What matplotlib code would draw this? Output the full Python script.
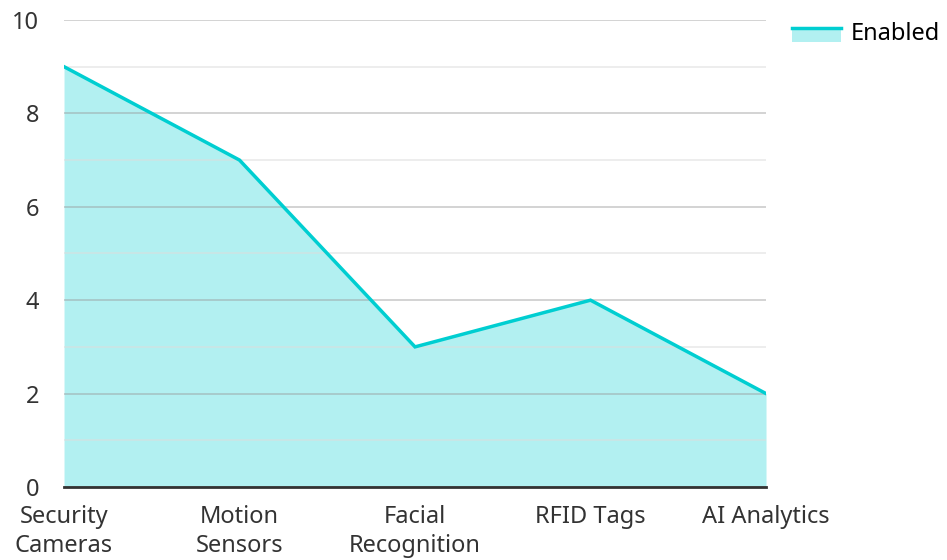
import matplotlib.pyplot as plt
from matplotlib.lines import Line2D
from matplotlib.patches import Patch, Rectangle
from matplotlib.legend_handler import HandlerBase
from matplotlib.ticker import MultipleLocator

plt.rcParams['font.family'] = ['Noto Sans', 'DejaVu Sans']

# Dữ liệu
categories = ['Security\nCameras', 'Motion\nSensors', 'Facial\nRecognition', 'RFID Tags', 'AI Analytics']
enabled = [9, 7, 3, 4, 2]

line_color = '#00CED1'
fs = 17


# Ký hiệu chú thích: đường ở trên, vùng tô ở dưới
class AreaHandler(HandlerBase):
    def create_artists(self, legend, orig_handle, xdescent, ydescent,
                       width, height, fontsize, trans):
        top = -ydescent + height * 0.7
        r = Rectangle((-xdescent, -ydescent - height * 0.15), width, height * 0.85,
                      facecolor=line_color, alpha=0.3, edgecolor='none', transform=trans)
        l = Line2D([-xdescent, -xdescent + width], [top, top],
                   color=line_color, linewidth=2.5, transform=trans)
        return [r, l]


fig = plt.figure(figsize=(9.47, 5.6), dpi=100)
ax = fig.add_axes([0.0676, 0.1304, 0.7413, 0.8339])

x = range(len(categories))
ax.fill_between(x, enabled, 0, color=line_color, alpha=0.3, linewidth=0, zorder=1)
ax.plot(x, enabled, color=line_color, linewidth=2.5, zorder=2, solid_joinstyle='miter')

ax.set_xlim(0, len(categories) - 1)
ax.set_ylim(0, 10)
ax.set_xticks(list(x))
ax.set_xticklabels(categories, fontsize=fs, color='#333333', linespacing=1.3)
ax.yaxis.set_major_locator(MultipleLocator(2))
ax.yaxis.set_minor_locator(MultipleLocator(1))
ax.tick_params(axis='y', labelsize=fs, labelcolor='#333333', length=0, pad=18)
ax.tick_params(axis='y', which='minor', length=0)
ax.tick_params(axis='x', length=0, pad=13)

ax.grid(axis='y', which='major', color='#999999', alpha=0.5, linewidth=1.2, zorder=1.5)
ax.grid(axis='y', which='minor', color='#dddddd', alpha=0.6, linewidth=1.2, zorder=1.5)
ax.grid(axis='x', visible=False)

for s in ['left', 'right', 'top']:
    ax.spines[s].set_visible(False)
ax.spines['bottom'].set_color('#333333')
ax.spines['bottom'].set_linewidth(2)
ax.spines['bottom'].set_zorder(3)

handle = Patch(facecolor=line_color)
fig.legend([handle], ['Enabled'], loc='upper left', bbox_to_anchor=(0.836, 0.961),
           frameon=False, fontsize=fs, handlelength=2.1, handletextpad=0.4,
           borderpad=0, borderaxespad=0, handler_map={Patch: AreaHandler()})

fig.savefig('out.png', dpi=100)
